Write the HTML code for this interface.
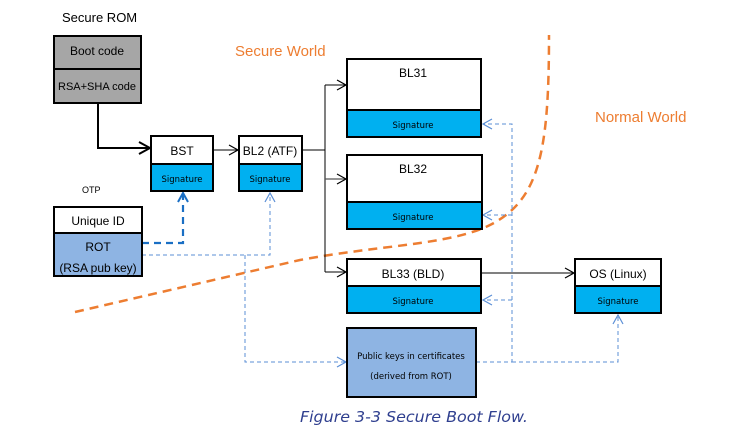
<!DOCTYPE html>
<html><head><meta charset="utf-8"><style>
html,body{margin:0;padding:0;background:#fff;width:746px;height:439px;overflow:hidden}
svg{display:block}
text{font-family:"Liberation Sans",sans-serif;}
.s{font-family:"DejaVu Sans",sans-serif;}
</style></head><body>
<svg width="746" height="439" viewBox="0 0 746 439" xmlns="http://www.w3.org/2000/svg">
<defs>
<marker id="ab" markerWidth="12" markerHeight="12" refX="10" refY="6" orient="auto" markerUnits="userSpaceOnUse"><path d="M1,1 L10,6 L1,11" fill="none" stroke="#000" stroke-width="1.2"/></marker>
<marker id="ab2" markerWidth="14" markerHeight="14" refX="12" refY="7" orient="auto" markerUnits="userSpaceOnUse"><path d="M1,1 L12,7 L1,13" fill="none" stroke="#000" stroke-width="2"/></marker>
<marker id="bl" markerWidth="12" markerHeight="12" refX="10" refY="6" orient="auto" markerUnits="userSpaceOnUse"><path d="M1,1 L10,6 L1,11" fill="none" stroke="#5b8fd6" stroke-width="1.2"/></marker>
<marker id="bl2" markerWidth="12" markerHeight="12" refX="10" refY="6" orient="auto" markerUnits="userSpaceOnUse"><path d="M1,1 L10,6 L1,11" fill="none" stroke="#1a6fc4" stroke-width="2"/></marker>
</defs>

<path d="M75,312 L300,260 C380,245 450,245 490,225 C540,200 549,150 549,35" fill="none" stroke="#ed7d31" stroke-width="2.5" stroke-dasharray="9,6"/>

<text x="62" y="22" font-size="13">Secure ROM</text>
<text x="235" y="56" font-size="15" fill="#ed7d31">Secure World</text>
<text x="595" y="122" font-size="15" fill="#ed7d31">Normal World</text>
<text x="82" y="193" font-size="9">OTP</text>

<rect x="54" y="36" width="87" height="67" fill="#a6a6a6" stroke="#000" stroke-width="2"/>
<line x1="54" y1="69" x2="141" y2="69" stroke="#000" stroke-width="2"/>
<text x="97" y="55" font-size="12" text-anchor="middle">Boot code</text>
<text x="97" y="90" font-size="11" text-anchor="middle">RSA+SHA code</text>

<path d="M98,103 V148 H150" fill="none" stroke="#000" stroke-width="2" marker-end="url(#ab2)"/>
<path d="M213,150 H238" fill="none" stroke="#000" stroke-width="1" marker-end="url(#ab)"/>
<path d="M302,150 H325" fill="none" stroke="#000" stroke-width="1"/>
<path d="M325,85 V272" fill="none" stroke="#000" stroke-width="1"/>
<path d="M325,85 H346" fill="none" stroke="#000" stroke-width="1" marker-end="url(#ab)"/>
<path d="M325,179 H346" fill="none" stroke="#555" stroke-width="1.2" marker-end="url(#ab)"/>
<path d="M325,272 H346" fill="none" stroke="#000" stroke-width="1" marker-end="url(#ab)"/>
<path d="M481,273 H574" fill="none" stroke="#000" stroke-width="1" marker-end="url(#ab)"/>

<path d="M142,243 H183 V193" fill="none" stroke="#1a6fc4" stroke-width="2.2" stroke-dasharray="7,5" marker-end="url(#bl2)"/>
<path d="M142,255 H270 V193" fill="none" stroke="#5b8fd6" stroke-width="1" stroke-dasharray="4,3" marker-end="url(#bl)"/>
<path d="M245,255 V362 H346" fill="none" stroke="#5b8fd6" stroke-width="1" stroke-dasharray="4,3" marker-end="url(#bl)"/>
<path d="M476,362 H512 V124 H483" fill="none" stroke="#5b8fd6" stroke-width="1" stroke-dasharray="4,3" marker-end="url(#bl)"/>
<path d="M512,215 H483" fill="none" stroke="#5b8fd6" stroke-width="1" stroke-dasharray="4,3" marker-end="url(#bl)"/>
<path d="M512,300 H483" fill="none" stroke="#5b8fd6" stroke-width="1" stroke-dasharray="4,3" marker-end="url(#bl)"/>
<path d="M512,362 H618 V315" fill="none" stroke="#5b8fd6" stroke-width="1" stroke-dasharray="4,3" marker-end="url(#bl)"/>

<rect x="151" y="136" width="62" height="55" fill="#fff" stroke="#000" stroke-width="2"/>
<rect x="151" y="164" width="62" height="27" fill="#00b0f0" stroke="#000" stroke-width="2"/>
<text x="182" y="155" font-size="12" text-anchor="middle">BST</text>
<text class="s" x="182" y="182" font-size="8.5" text-anchor="middle">Signature</text>
<rect x="239" y="136" width="63" height="55" fill="#fff" stroke="#000" stroke-width="2"/>
<rect x="239" y="164" width="63" height="27" fill="#00b0f0" stroke="#000" stroke-width="2"/>
<text x="270" y="155" font-size="12" text-anchor="middle">BL2 (ATF)</text>
<text class="s" x="270" y="182" font-size="8.5" text-anchor="middle">Signature</text>

<rect x="54" y="207" width="88" height="69" fill="#fff" stroke="#000" stroke-width="2"/>
<rect x="54" y="233" width="88" height="43" fill="#8eb4e3" stroke="#000" stroke-width="2"/>
<text x="98" y="225" font-size="12" text-anchor="middle">Unique ID</text>
<text x="98" y="251" font-size="12" text-anchor="middle">ROT</text>
<text x="98" y="272" font-size="12" text-anchor="middle">(RSA pub key)</text>

<rect x="347" y="59" width="134" height="78" fill="#fff" stroke="#000" stroke-width="2"/>
<rect x="347" y="110" width="134" height="27" fill="#00b0f0" stroke="#000" stroke-width="2"/>
<text x="413" y="77" font-size="12" text-anchor="middle">BL31</text>
<text class="s" x="413" y="128" font-size="8.5" text-anchor="middle">Signature</text>
<rect x="347" y="155" width="135" height="74" fill="#fff" stroke="#000" stroke-width="2"/>
<rect x="347" y="202" width="135" height="27" fill="#00b0f0" stroke="#000" stroke-width="2"/>
<text x="413" y="173" font-size="12" text-anchor="middle">BL32</text>
<text class="s" x="413" y="220" font-size="8.5" text-anchor="middle">Signature</text>
<rect x="347" y="259" width="134" height="54" fill="#fff" stroke="#000" stroke-width="2"/>
<rect x="347" y="286" width="134" height="27" fill="#00b0f0" stroke="#000" stroke-width="2"/>
<text x="413" y="278" font-size="12" text-anchor="middle">BL33 (BLD)</text>
<text class="s" x="413" y="304" font-size="8.5" text-anchor="middle">Signature</text>
<rect x="575" y="259" width="86" height="54" fill="#fff" stroke="#000" stroke-width="2"/>
<rect x="575" y="286" width="86" height="27" fill="#00b0f0" stroke="#000" stroke-width="2"/>
<text x="618" y="278" font-size="12" text-anchor="middle">OS (Linux)</text>
<text class="s" x="618" y="304" font-size="8.5" text-anchor="middle">Signature</text>

<rect x="347" y="328" width="129" height="69" fill="#8eb4e3" stroke="#000" stroke-width="2"/>
<text class="s" x="411" y="359" font-size="8.5" text-anchor="middle">Public keys in certificates</text>
<text class="s" x="411" y="379" font-size="8.5" text-anchor="middle">(derived from ROT)</text>

<text class="s" x="300" y="422" font-size="15" font-style="italic" fill="#2f3f8f" textLength="228" lengthAdjust="spacingAndGlyphs">Figure 3-3 Secure Boot Flow.</text>
</svg>
</body></html>
